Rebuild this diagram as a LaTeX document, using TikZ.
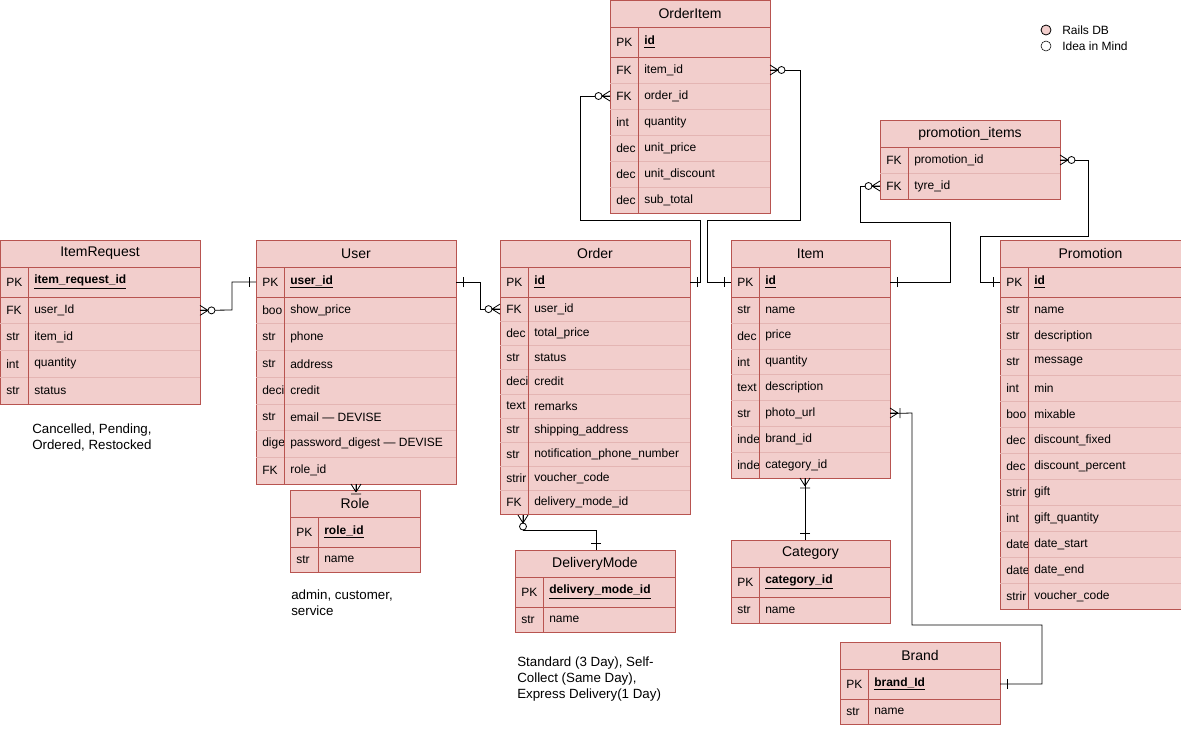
\documentclass[tikz,border=0pt]{standalone}
\usepackage{fontspec}
\setmainfont{Liberation Sans}
\usetikzlibrary{calc}

\definecolor{erfill}{HTML}{F2CECC}
\definecolor{erline}{HTML}{B85450}
\definecolor{ersep}{HTML}{E4B5B3}

\tikzset{
  erbox/.style={fill=erfill,draw=erline,line width=0.6pt},
  ertitle/.style={font=\fontsize{10.5}{12}\selectfont},
  erkey/.style={font=\fontsize{9}{11}\selectfont,anchor=west,inner sep=0pt},
  erfield/.style={font=\fontsize{9}{11}\selectfont,anchor=west,inner sep=0pt},
  note/.style={font=\fontsize{10}{12}\selectfont,align=left,anchor=north west,inner sep=0pt},
  link/.style={draw=black,line width=0.6pt},
  one/.pic={\draw[link] (-7,-5) -- (-7,5);},
  zmany/.pic={\draw[link] (-8,0) -- (0,-5) (-8,0) -- (0,5) (-8,0) -- (0,0);
              \draw[link,fill=white] (-11.5,0) circle (3.5);},
  omany/.pic={\draw[link] (-8,0) -- (0,-5) (-8,0) -- (0,5) (-8,0) -- (0,0) (-10,-5) -- (-10,5);}
}

% name, x, y, width, title, pk, rows (key/field), row height
\newcommand{\ertable}[8]{%
  \pgfmathsetmacro\erx{#2+#4}
  \foreach \k/\f [count=\i] in {#7} {\global\let\ercount\i}
  \pgfmathsetmacro\erbot{#3+57+\ercount*#8}
  \draw[erbox] (#2,#3) rectangle (\erx,\erbot);
  \draw[draw=erline] (#2,#3+27) -- (\erx,#3+27);
  \node[ertitle] (#1) at (#2+#4/2,#3+13.5) {#5};
  \node[erkey] at (#2+6,#3+42) {PK};
  \node[erfield] at (#2+34,#3+42) {\underline{\textbf{#6}}};
  \coordinate (#1-0-w) at (#2,#3+42);
  \coordinate (#1-0-e) at (\erx,#3+42);
  \draw[draw=erline] (#2,#3+57) -- (\erx,#3+57);
  \foreach \k/\f [count=\i] in {#7} {
    \pgfmathsetmacro\ery{#3+57+(\i-0.5)*#8}
    \ifnum\i>1 \draw[draw=ersep] (#2,\ery-#8/2) -- (\erx,\ery-#8/2); \fi
    \node[erkey] at (#2+6,\ery) {\k};
    \node[erfield] at (#2+34,\ery) {\f};
    \coordinate (#1-\i-w) at (#2,\ery);
    \coordinate (#1-\i-e) at (\erx,\ery);
  }
  \draw[draw=erline] (#2+28,#3+27) -- (#2+28,\erbot);
}

\begin{document}
\begin{tikzpicture}[x=0.75pt,y=-0.75pt]
  \useasboundingbox (0,0) rectangle (1181,751);

  % tables
  \ertable{OI}{610}{0}{160}{OrderItem}{id}{FK/item\_id,FK/order\_id,int/quantity,dec/unit\_price,dec/unit\_discount,dec/sub\_total}{26}
  \ertable{IR}{0}{240}{200}{ItemRequest}{item\_request\_id}{FK/user\_Id,str/item\_id,int/quantity,str/status}{26.75}
  \ertable{User}{256}{240}{200}{User}{user\_id}{boo/show\_price,str/phone,str/address,deci/credit,str/email --- DEVISE,dige/password\_digest --- DEVISE,FK/role\_id}{26.7}
  \ertable{Role}{290}{490}{130}{Role}{role\_id}{str/name}{25}
  \ertable{Order}{500}{240}{190}{Order}{id}{FK/user\_id,dec/total\_price,str/status,deci/credit,text/remarks,str/shipping\_address,str/notification\_phone\_number,strir/voucher\_code,FK/delivery\_mode\_id}{24.2}
  \ertable{DM}{515}{550}{160}{DeliveryMode}{delivery\_mode\_id}{str/name}{25}
  \ertable{Item}{731}{240}{159}{Item}{id}{str/name,dec/price,int/quantity,text/description,str/photo\_url,inde/brand\_id,inde/category\_id}{25.9}
  \ertable{Cat}{731}{540}{159}{Category}{category\_id}{str/name}{26}
  \ertable{Brand}{840}{642}{160}{Brand}{brand\_Id}{str/name}{25}
  \ertable{Promo}{1000}{240}{181}{Promotion}{id}{str/name,str/description,str/message,int/min,boo/mixable,dec/discount\_fixed,dec/discount\_percent,strir/gift,int/gift\_quantity,date/date\_start,date/date\_end,strir/voucher\_code}{26}

  % promotion_items has no PK row
  \draw[erbox] (880,120) rectangle (1060,199);
  \node[ertitle] (PI) at (970,133.5) {promotion\_items};
  \draw[draw=erline] (880,147) -- (1060,147);
  \draw[draw=ersep] (880,173) -- (1060,173);
  \draw[draw=erline] (908,147) -- (908,199);
  \foreach \k/\f [count=\i] in {FK/promotion\_id,FK/tyre\_id} {
    \node[erkey] at (886,134+26*\i) {\k};
    \node[erfield] at (914,134+26*\i) {\f};
    \coordinate (PI-\i-w) at (880,134+26*\i);
    \coordinate (PI-\i-e) at (1060,134+26*\i);
  }

  % connectors
  \draw[link] (IR-1-e) -- (232,310) |- (User-0-w);
  \path (IR-1-e) pic[rotate=180]{zmany} (User-0-w) pic{one};
  \draw[link] (User-0-e) -- (480,282) |- (Order-1-w);
  \path (User-0-e) pic[rotate=180]{one} (Order-1-w) pic{zmany};
  \draw[link] (Order-0-e) -- (700,282) -- (700,220) -- (580,220) |- (OI-2-w);
  \path (Order-0-e) pic[rotate=180]{one} (OI-2-w) pic{zmany};
  \draw[link] (Item-0-w) -- (707,282) -- (707,220) -- (800,220) |- (OI-1-e);
  \path (Item-0-w) pic{one} (OI-1-e) pic[rotate=180]{zmany};
  \draw[link] (Item-0-e) -- (950,282) -- (950,222) -- (860,222) |- (PI-2-w);
  \path (Item-0-e) pic[rotate=180]{one} (PI-2-w) pic{zmany};
  \draw[link] (Promo-0-w) -- (980,282) -- (980,236) -- (1088,236) |- (PI-1-e);
  \path (Promo-0-w) pic{one} (PI-1-e) pic[rotate=180]{zmany};
  \coordinate (UserB) at (356,484);
  \coordinate (RoleT) at (356,490);
  \draw[link] (UserB) -- (RoleT);
  \path (UserB) pic[rotate=90]{omany};
  \coordinate (OrderB) at (523,515);
  \coordinate (DMT) at (596,550);
  \draw[link] (OrderB) |- (596,530) -- (DMT);
  \path (OrderB) pic[rotate=90]{zmany} (DMT) pic[rotate=-90]{one};
  \coordinate (ItemB) at (805,478);
  \coordinate (CatT) at (805,540);
  \draw[link] (ItemB) -- (CatT);
  \path (ItemB) pic[rotate=90]{omany} (CatT) pic[rotate=-90]{one};
  \draw[link] (Item-5-e) -- (912,413) -- (912,625) -- (1042,625) |- (Brand-0-e);
  \path (Brand-0-e) pic[rotate=180]{one} (890,413) pic[rotate=180]{omany};

  % notes
  \node[note] (irnote) at (32,424) {Cancelled, Pending,\\Ordered, Restocked};
  \node[note] (rolenote) at (291,590) {admin, customer,\\service};
  \node[note] (dmnote) at (517,657) {Standard (3 Day), Self-\\Collect (Same Day),\\Express Delivery(1 Day)};

  % legend
  \draw[erbox,draw=black] (1046,30) circle (5);
  \node[erfield] (lg1) at (1062,30) {Rails DB};
  \draw[draw=black,fill=white] (1046,46) circle (5);
  \node[erfield] (lg2) at (1062,46) {Idea in Mind};
\end{tikzpicture}
\end{document}
